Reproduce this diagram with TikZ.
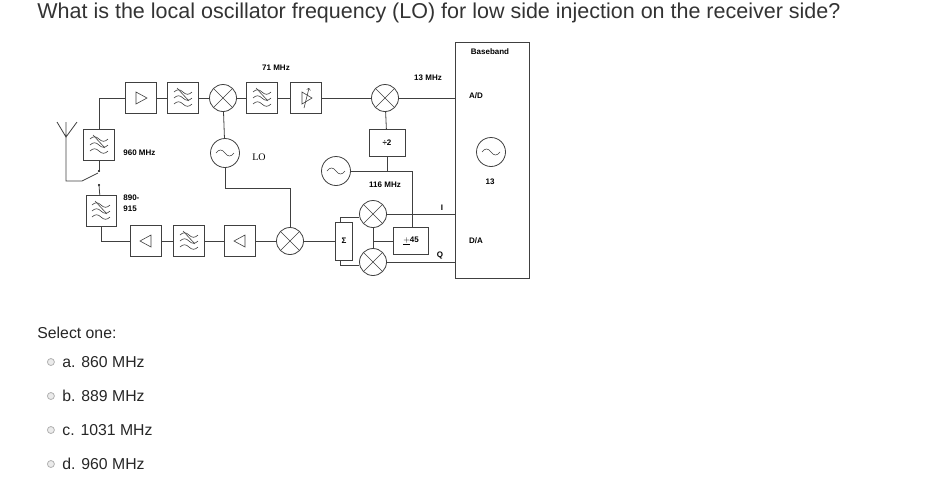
\documentclass[tikz,border=0pt]{standalone}
\usepackage{fontspec}
\setmainfont{Liberation Sans}
\begin{document}
\begin{tikzpicture}[x=1pt,y=-1pt,line width=0.8pt,draw=black!75,
  lbl/.style={font=\bfseries\fontsize{8}{9}\selectfont,inner sep=0},
  box/.style={draw,fill=white,minimum width=31pt,minimum height=31pt,inner sep=0},
  wave/.style={line width=0.6pt},
  filt/.style={box,path picture={
     \begin{scope}[shift={(path picture bounding box.center)}]
     \draw[wave] (-9,-6) .. controls (-6,-9) and (-3,-9) .. (0,-6) .. controls (3,-3) and (6,-3) .. (9,-6);
     \draw[wave] (-9,0) .. controls (-6,-3) and (-3,-3) .. (0,0) .. controls (3,3) and (6,3) .. (9,0);
     \draw[wave] (-9,6) .. controls (-6,3) and (-3,3) .. (0,6) .. controls (3,9) and (6,9) .. (9,6);
     \draw[wave] (-6,-10) -- (6,3);
     \end{scope}}},
  ampr/.style={box,path picture={\draw[wave,shift={(path picture bounding box.center)}] (-5,-6) -- (6,0) -- (-5,6) -- cycle;}},
  ampl/.style={box,path picture={\draw[wave,shift={(path picture bounding box.center)}] (5,-6) -- (-6,0) -- (5,6) -- cycle;}},
  vamp/.style={box,path picture={\begin{scope}[shift={(path picture bounding box.center)}]\draw[wave] (-4,-6) -- (6,0) -- (-4,6) -- cycle;
     \draw[wave,->] (-2,10) -- (3,-10);\end{scope}}},
  mix/.style={draw,circle,fill=white,minimum size=27pt,inner sep=0,path picture={
     \draw[wave] (path picture bounding box.north west) -- (path picture bounding box.south east)
     (path picture bounding box.north east) -- (path picture bounding box.south west);}},
  osc/.style={draw,circle,fill=white,minimum size=29pt,inner sep=0,path picture={
     \draw[wave,shift={(path picture bounding box.center)}] (-9,0) .. controls (-6,-4) and (-3,-4) .. (0,0) .. controls (3,4) and (6,4) .. (9,0);}},
  smallbox/.style={draw,fill=white,inner sep=0}
]
\useasboundingbox (0,0) rectangle (931,488);
\node[anchor=west,text=black!80,inner sep=0] (title) at (37,13) {\fontsize{21.5}{24}\selectfont What is the local oscillator frequency (LO) for low side injection on the receiver side?};

% baseband
\node[smallbox,minimum width=74pt,minimum height=236pt] (bb) at (492,160) {};
\node[lbl] (tbb) at (490,52) {Baseband};
\node[lbl] (tad) at (476,96) {A/D};
\node[osc] (bbosc) at (491,152) {};
\node[lbl] (t13) at (490,182) {13};
\node[lbl] (tda) at (476,241) {D/A};

% top row
\node[ampr] (a1) at (141,98) {};
\node[filt] (f1) at (183,98) {};
\node[mix] (m1) at (223,98) {};
\node[filt] (f2) at (262,98) {};
\node[vamp] (va) at (306,98) {};
\node[mix] (m2) at (385,98) {};
\node[lbl] (t71) at (276,68) {71 MHz};
\node[lbl] (t13m) at (428,78) {13 MHz};
\draw (a1) -- (f1) -- (m1) -- (f2) -- (va) -- (m2) -- (m2 -| bb.west);

\node[smallbox,minimum width=36pt,minimum height=27pt] (div) at (387,143) {\bfseries\fontsize{8}{9}\selectfont ÷2};
\draw (m2) -- (div);
\node[osc] (osc2) at (336,171) {};
\coordinate (j1) at (387,171);
\coordinate (j2) at (412,171);
\draw (div) -- (j1) -- (osc2);
\node[lbl] (t116) at (385,185) {116 MHz};

% I/Q
\node[mix] (mi) at (373,214) {};
\node[mix] (mq) at (373,262) {};
\node[smallbox,minimum width=35pt,minimum height=27pt] (p45) at (411,241) {\bfseries\fontsize{8}{9}\selectfont $\underline{+}$45};
\draw (j1) -- (j2) -- (j2 |- p45.north);
\draw (mi) -- (mq);
\draw (373,241) -- (p45.west);
\draw (mi) -- (mi -| bb.west);
\draw (mq) -- (mq -| bb.west);
\node[lbl] (tI) at (442,208) {I};
\node[lbl] (tQ) at (440,255) {Q};
\node[smallbox,minimum width=17pt,minimum height=38pt] (sig) at (344,241) {\bfseries\fontsize{8}{9}\selectfont Σ};
\draw (340,222) -- (340,217) -- (mi.west |- 0,217);
\draw (340,260) -- (340,265) -- (mq.west |- 0,265);

% LO
\node[osc] (lo) at (225,153) {};
\node[inner sep=0] (tlo) at (259,157) {\fontspec{Liberation Serif}\fontsize{10}{11}\selectfont LO};
\draw (m1) -- (lo);
\node[mix] (m3) at (290,241) {};
\coordinate (c1) at (225,188);
\draw (lo) -- (c1) -- (290,188) -- (m3);
\draw (m3) -- (sig);

% bottom row
\node[ampl] (a2) at (146,241) {};
\node[filt] (f3) at (189,241) {};
\node[ampl] (a3) at (240,241) {};
\draw (a2) -- (f3) -- (a3) -- (m3);

% left
\node[filt] (rf) at (99,145) {};
\node[lbl,anchor=west] (t960) at (123,153) {960 MHz};
\draw (rf) -- (99,98) -- (a1);
\node[filt,minimum width=30pt] (tf) at (101,211) {};
\node[lbl,anchor=west,align=left] (t890) at (123,203) {890-\\[2pt]915};
\draw (tf) -- (101,241) -- (a2);
\coordinate (s1) at (99,171);
\coordinate (s2) at (99,185);
\fill (s1) circle (1.2pt) (s2) circle (1.2pt);
\draw (rf) -- (s1);
\draw (s2) -- (tf);
\coordinate (ant) at (66,137);
\draw (57,122) -- (ant) -- (77,122) (ant) -- (66,122);
\draw (ant) -- (66,181) -- (82,181) -- (98,173);

% question
\begin{scope}[every node/.style={anchor=west,inner sep=0,text=black!85,font=\fontsize{15.8}{18}\selectfont}]
\node (sel) at (37,333) {Select one:};
\foreach \t/\y [count=\i] in {a. 860 MHz/362,b. 889 MHz/396,c. 1031 MHz/430,d. 960 MHz/464}{
  \node[draw=black!30,fill=black!8,circle,minimum size=7pt,inner sep=0] (r\i) at (47,\y) {};
  \node (o\i) at (62,\y) {\t};}
\end{scope}
\end{tikzpicture}
\end{document}
